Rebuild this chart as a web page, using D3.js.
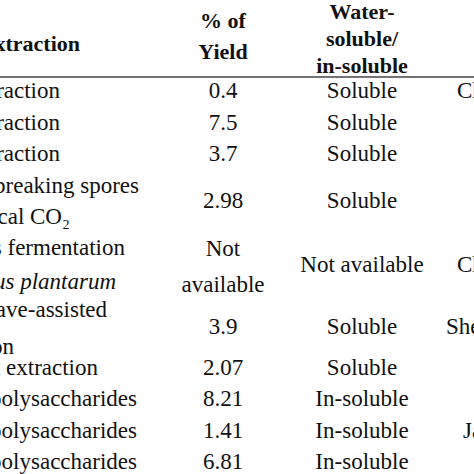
<!DOCTYPE html>
<html><head><meta charset="utf-8">
<script src="https://cdn.jsdelivr.net/npm/d3@7"></script>
<style>body{margin:0;background:#fff}svg{display:block}</style>
</head><body>
<script>
// table data
const headers = ["Method of extraction", ["% of","Yield"], ["Water-","soluble/","in-soluble"]];
const methodLines = [["Hot water extraction"],["Alkali extraction"],["Acid extraction"],["Wall-breaking spores","supercritical CO₂"],["Lactobacillus fermentation","Lactobacillus plantarum"],["Microwave-assisted","extraction"],["Enzyme-assisted extraction"],["Crude polysaccharides"],["Crude polysaccharides"],["Crude polysaccharides"]];
const yields = [["0.4"],["7.5"],["3.7"],["2.98"],["Not","available"],["3.9"],["2.07"],["8.21"],["1.41"],["6.81"]];
const solubility = ["Soluble","Soluble","Soluble","Soluble","Not available","Soluble","Soluble","In-soluble","In-soluble","In-soluble"];
const origin = ["China","","","","China","Shen","","","Japan",""];

const W=474,H=474;
const svg=d3.select("body").append("svg").attr("width",W).attr("height",H);
const font="'Liberation Serif','Times New Roman',serif";
const rowY=[91,123,154,201,265,327,368,399,431,462];
const lineGap=[0,0,0,31,34,37,0,0,0,0];
const methodLineRight=[[60],[60],[60],[139,70],[125,116],[107,14],[98],[137],[137],[137]];
const g=svg.append("g").attr("font-family",font).attr("font-size",23).attr("fill","#111");

function multi(x,yc,lines,gap,anchor,italicIdx){
  const n=lines.length;
  lines.forEach((t,i)=>{
    const y=yc+(i-(n-1)/2)*gap+7;
    const el=g.append("text").attr("x",Array.isArray(x)?x[i]:x).attr("y",y).attr("text-anchor",anchor).text(t);
    if(italicIdx!=null&&italicIdx===i) el.attr("font-style","italic");
  });
}
const hg=g.append("g").attr("font-weight","bold").attr("font-size",22);
hg.append("text").attr("x",80).attr("y",51).attr("text-anchor","end").text(headers[0]);
headers[1].forEach((t,i)=>hg.append("text").attr("x",223).attr("y",28+i*31).attr("text-anchor","middle").text(t));
headers[2].forEach((t,i)=>hg.append("text").attr("x",362).attr("y",19+i*27).attr("text-anchor","middle").text(t));
svg.append("line").attr("x1",0).attr("x2",W).attr("y1",77).attr("y2",77).attr("stroke","#444").attr("stroke-width",1.5);

rowY.forEach((yc,i)=>{
  const gap=lineGap[i]||31;
  multi(methodLineRight[i],yc+(i===5?1:0),methodLines[i],gap,"end",i===4?1:null);
  multi(223,yc+(i===4?2:0),yields[i],36,"middle");
  multi(362,yc,[solubility[i]],0,"middle");
  if(origin[i]) g.append("text").attr("x",origin[i]==="Japan"?463:(origin[i]==="Shen"?446:457)).attr("y",yc+7).text(origin[i]);
});
</script>
</body></html>
